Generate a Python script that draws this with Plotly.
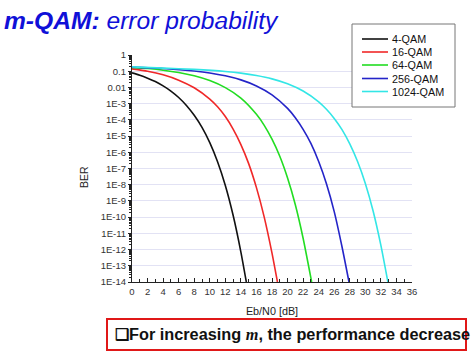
import plotly.graph_objects as go

# Eb/N0 [dB] sample positions and BER, one list per curve
ebn0_4 = [0, 1, 2, 3, 4, 5, 6, 7, 8, 9, 10, 11, 12, 13, 14, 14.7]
ber_4 = [0.079, 0.056, 0.037, 0.023, 0.0125, 6.0e-3, 2.4e-3, 7.7e-4, 1.9e-4,
         3.4e-5, 3.9e-6, 2.6e-7, 9e-9, 1.3e-10, 7e-13, 1e-14]

ebn0_16 = [0, 2, 4, 6, 8, 10, 11, 12, 13, 14, 15, 16, 17, 18, 18.7]
ber_16 = [0.14, 0.10, 0.06, 0.028, 0.0095, 1.9e-3, 6.4e-4, 1.6e-4, 2.7e-5,
          3e-6, 2e-7, 6.6e-9, 1e-10, 6e-13, 1e-14]

ebn0_64 = [0, 2, 4, 6, 8, 10, 12, 14, 16, 17, 18, 19, 20, 21, 22, 23.1]
ber_64 = [0.173, 0.146, 0.116, 0.0835, 0.0523, 0.0265, 9.7e-3, 2.2e-3, 2.2e-4,
          4.6e-5, 6.4e-6, 5.7e-7, 2.6e-8, 5.8e-10, 5e-12, 1e-14]

ebn0_256 = [0, 4, 8, 10, 12, 14, 16, 18, 20, 21, 22, 23, 24, 25, 26, 27, 27.9]
ber_256 = [0.178, 0.147, 0.103, 0.078, 0.052, 0.0292, 0.0124, 3.5e-3, 5.1e-4,
           1.35e-4, 2.6e-5, 3.5e-6, 2.7e-7, 1.15e-8, 2.2e-10, 1.5e-12, 1e-14]

ebn0_1024 = [0, 4, 8, 12, 14, 16, 18, 20, 22, 24, 25, 26, 27, 28, 29, 30, 31, 32, 32.9]
ber_1024 = [0.185, 0.155, 0.129, 0.096, 0.076, 0.054, 0.0337, 0.0168, 6.0e-3,
            1.3e-3, 4.5e-4, 1.23e-4, 2.5e-5, 3.3e-6, 2.7e-7, 1.2e-8, 2.4e-10,
            1.8e-12, 1e-14]

series_names = ["4-QAM", "16-QAM", "64-QAM", "256-QAM", "1024-QAM"]
series_colors = ["#111111", "#f02828", "#22dd22", "#2424c8", "#33e6e6"]
series_x = [ebn0_4, ebn0_16, ebn0_64, ebn0_256, ebn0_1024]
series_y = [ber_4, ber_16, ber_64, ber_256, ber_1024]

y_tick_vals = [10 ** (-k) for k in range(0, 15)]
y_tick_text = ["1", "0.1", "0.01"] + [f"1E-{k}" for k in range(3, 15)]
x_tick_vals = list(range(0, 37, 2))

# plot area in pixels (for placing slide decorations)
L, R, T, B = 132, 412, 55, 282
W, H = R - L, B - T


def px(xp):
    return (xp - L) / W


def py(yp):
    return (B - yp) / H


fig = go.Figure()
for name, col, xs, ys in zip(series_names, series_colors, series_x, series_y):
    fig.add_trace(go.Scatter(x=xs, y=ys, mode="lines", name=name, showlegend=False,
                             line=dict(color=col, width=1.6, shape="spline", smoothing=0.6)))

minor_y = [m * 10 ** (-k) for k in range(1, 15) for m in range(2, 10)]

fig.update_layout(
    width=474, height=357,
    margin=dict(l=L, r=474 - R, t=T, b=357 - B),
    paper_bgcolor="white", plot_bgcolor="white",
    font=dict(family="Liberation Sans, Arial, sans-serif", color="#222222", size=9),
    showlegend=False,
)
fig.update_xaxes(range=[0, 36], tickvals=x_tick_vals, ticks="inside", ticklen=4,
                 tickcolor="#222", showline=True, linecolor="#222", linewidth=1.2,
                 showgrid=False, zeroline=False, tickfont=dict(size=9.5, color="#333"),
                 minor=dict(dtick=1, ticks="inside", ticklen=3, tickcolor="#222"),
                 title=dict(text="Eb/N0 [dB]", font=dict(size=10.8, color="#222"), standoff=11))
fig.update_yaxes(type="log", range=[-14, 0], tickvals=y_tick_vals, ticktext=y_tick_text,
                 ticks="outside", ticklen=3, tickcolor="#222", showline=True,
                 linecolor="#222", linewidth=1.2, showgrid=True, gridcolor="#e2e2f4",
                 gridwidth=1, zeroline=False, tickfont=dict(size=9.5, color="#333"),
                 minor=dict(tickvals=minor_y, ticks="outside", ticklen=2, tickcolor="#222",
                            showgrid=False))

# legend box (drawn as a slide-style legend)
fig.add_shape(type="rect", xref="paper", yref="paper",
              x0=px(352), x1=px(455), y0=py(24), y1=py(107),
              line=dict(color="#777777", width=1), fillcolor="white", layer="above")
legend_rows = [39, 52, 65, 78.5, 91.5]
for name, col, yr in zip(series_names, series_colors, legend_rows):
    fig.add_shape(type="line", xref="paper", yref="paper",
                  x0=px(362), x1=px(388), y0=py(yr), y1=py(yr),
                  line=dict(color=col, width=1.6), layer="above")
    fig.add_annotation(xref="paper", yref="paper", x=px(390), y=py(yr),
                       xanchor="left", yanchor="middle", showarrow=False, text=name,
                       font=dict(size=10.8, color="#111111"))

fig.add_annotation(xref="paper", yref="paper", x=px(84), y=py(177),
                   xanchor="center", yanchor="middle",
                   text="BER", textangle=-90, showarrow=False,
                   font=dict(size=10.5, color="#222"))

fig.add_annotation(xref="paper", yref="paper", x=px(2), y=py(21),
                   xanchor="left", yanchor="middle", showarrow=False,
                   text="<b><i>m-QAM:</i></b><i> error probability</i>",
                   font=dict(size=24.6, color="#1010d8", family="Liberation Sans, Arial, sans-serif"))

fig.add_shape(type="rect", xref="paper", yref="paper",
              x0=px(107), x1=px(466), y0=py(319), y1=py(350),
              line=dict(color="#e01818", width=2), fillcolor="rgba(0,0,0,0)")
fig.add_annotation(xref="paper", yref="paper", x=px(113), y=py(334),
                   xanchor="left", yanchor="middle", showarrow=False,
                   text="<b>❑For increasing <span style='font-family:Liberation Serif'><i>m</i></span>, the performance decrease</b>",
                   font=dict(size=16.3, color="#111111", family="Liberation Sans, Arial, sans-serif"))

fig.write_html("out.html", config={"displayModeBar": False},
               post_script="document.body.style.margin='0';")
